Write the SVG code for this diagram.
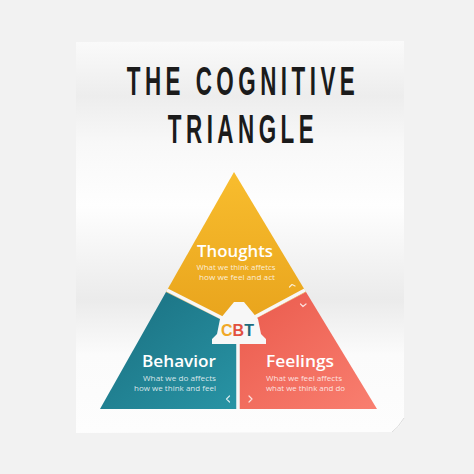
<svg xmlns="http://www.w3.org/2000/svg" width="474" height="474" viewBox="0 0 474 474">
  <defs>
    <linearGradient id="sheet" gradientUnits="userSpaceOnUse" x1="0" y1="41" x2="0" y2="433">
      <stop offset="0" stop-color="#fafafa"/>
      <stop offset="0.14" stop-color="#ededed"/>
      <stop offset="0.26" stop-color="#f8f8f8"/>
      <stop offset="0.42" stop-color="#fefefe"/>
      <stop offset="0.66" stop-color="#ebebeb"/>
      <stop offset="0.8" stop-color="#fbfbfb"/>
      <stop offset="1" stop-color="#fdfdfd"/>
    </linearGradient>
    <linearGradient id="gY" x1="0" y1="0" x2="0" y2="1">
      <stop offset="0" stop-color="#f8bd2e"/>
      <stop offset="1" stop-color="#e8a31c"/>
    </linearGradient>
    <linearGradient id="gT" x1="0" y1="0" x2="1" y2="1">
      <stop offset="0" stop-color="#1a6e7f"/>
      <stop offset="1" stop-color="#2894a5"/>
    </linearGradient>
    <linearGradient id="gR" x1="0" y1="0" x2="1" y2="1">
      <stop offset="0" stop-color="#ea5a4c"/>
      <stop offset="1" stop-color="#f97f70"/>
    </linearGradient>
    <style>
      .title { font-family: "Liberation Sans", Arial, sans-serif; font-weight: bold; font-size: 40px; fill: #1b1b1b; letter-spacing: 8px; }
      .head { font-family: "Open Sans", "Liberation Sans", sans-serif; font-weight: 600; font-size: 17px; fill: #ffffff; }
      .sub { font-family: "Open Sans", "Liberation Sans", sans-serif; font-size: 8px; fill: #ffffff; fill-opacity: 0.82; }
      .sep { stroke: #f7f7f7; stroke-width: 3.5; fill: none; }
      .chev { stroke: #ffffff; stroke-opacity: 0.8; stroke-width: 1.2; fill: none; stroke-linecap: round; stroke-linejoin: round; }
      .cbt { font-family: "Liberation Sans", Arial, sans-serif; font-weight: bold; font-size: 16px; }
    </style>
  </defs>

  <rect width="474" height="474" fill="#f2f2f2"/>
  <path d="M76,42 L404,41 L404,418 Q400,428 392,432 L76,433 Z" fill="url(#sheet)"/>
  <path d="M392,432 Q398,428 404,418" stroke="#dcdcdc" stroke-width="1" fill="none"/>

  <g id="title">
    <text class="title" transform="translate(243,95) scale(0.56,1)" text-anchor="middle">THE COGNITIVE</text>
    <text class="title" transform="translate(243,143) scale(0.56,1)" text-anchor="middle">TRIANGLE</text>
  </g>

  <g id="thoughts">
    <polygon points="234,172 166,292 238,328 306,292" fill="url(#gY)"/>
    <text class="head" x="235" y="257" text-anchor="middle" textLength="76" lengthAdjust="spacingAndGlyphs">Thoughts</text>
    <text class="sub" x="236" y="270" text-anchor="middle" textLength="79" lengthAdjust="spacingAndGlyphs">What we think affetcs</text>
    <text class="sub" x="237" y="279.5" text-anchor="middle" textLength="76" lengthAdjust="spacingAndGlyphs">how we feel and act</text>
    <polyline class="chev" points="289.5,287 292,284.5 295,286"/>
  </g>

  <g id="behavior">
    <polygon points="166,292 100,409 238,409 238,328" fill="url(#gT)"/>
    <text class="head" x="216" y="367" text-anchor="end" textLength="74" lengthAdjust="spacingAndGlyphs">Behavior</text>
    <text class="sub" x="216" y="381" text-anchor="end" textLength="73" lengthAdjust="spacingAndGlyphs">What we do affects</text>
    <text class="sub" x="216" y="391" text-anchor="end" textLength="82" lengthAdjust="spacingAndGlyphs">how we think and feel</text>
    <polyline class="chev" points="229.5,396 226.5,399 229.5,402"/>
  </g>

  <g id="feelings">
    <polygon points="306,292 377,409 238,409 238,328" fill="url(#gR)"/>
    <text class="head" x="266" y="367" textLength="68" lengthAdjust="spacingAndGlyphs">Feelings</text>
    <text class="sub" x="266" y="381" textLength="76" lengthAdjust="spacingAndGlyphs">What we feel affects</text>
    <text class="sub" x="266" y="391" textLength="79" lengthAdjust="spacingAndGlyphs">what we think and do</text>
    <polyline class="chev" points="300.5,304 303,306.5 306,304"/>
    <polyline class="chev" points="249,396 252,399 249,402"/>
  </g>

  <g id="separators">
    <polyline class="sep" points="167,290 238,326 305,290"/>
    <line class="sep" x1="238" y1="326" x2="238" y2="409" stroke-width="4"/>
  </g>

  <g id="cbt">
    <polygon points="234,302 244,302 258,319 261,334 266,339 266,344 212,344 212,339 217,334 220,319" fill="#f7f7f7"/>
    <text class="cbt" x="237.5" y="335.5" text-anchor="middle"><tspan fill="#f0a828">C</tspan><tspan fill="#e2503f">B</tspan><tspan fill="#1d6b7c">T</tspan></text>
  </g>
</svg>
